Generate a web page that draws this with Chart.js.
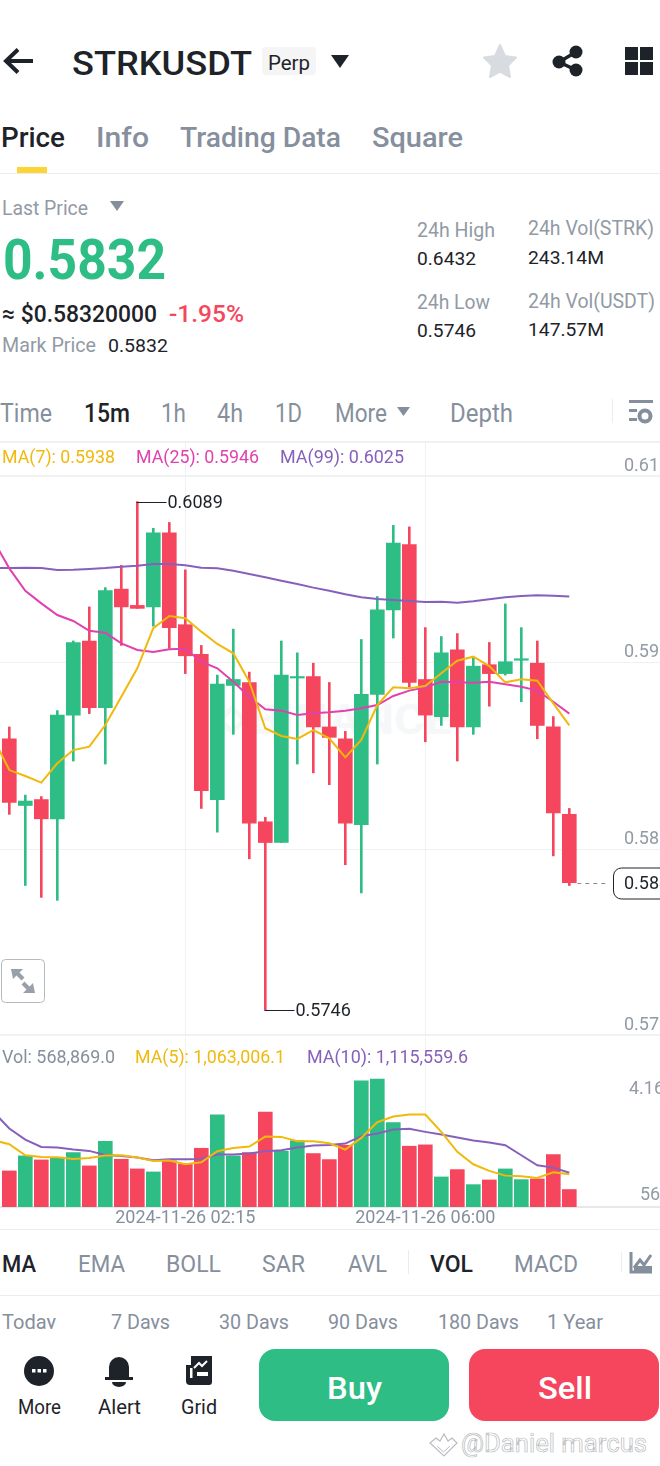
<!DOCTYPE html>
<html><head><meta charset="utf-8">
<script src="https://cdn.jsdelivr.net/npm/chart.js@4"></script>
<style>
html,body{margin:0;padding:0;background:#fff;width:660px;height:1466px;overflow:hidden;font-family:Roboto,sans-serif}
#page{position:relative;width:660px;height:1466px;overflow:hidden}
.t{position:absolute;white-space:nowrap;line-height:1;transform-origin:0 50%}
.r{position:absolute}
canvas{position:absolute;left:0;display:block}
svg{position:absolute;overflow:visible}
</style></head><body><div id="page">
<canvas id="price" width="660" height="594" style="top:442px;width:660px;height:594px"></canvas>
<canvas id="vol" width="660" height="192" style="top:1037px;width:660px;height:192px"></canvas>
</div>
<script>
const GREEN='#2ebd85',RED='#f6465d',DARK='#1e2329',GRAY='#868f9d',YEL='#f0b90b',MAG='#e041ae',PUR='#8660bb',GRID='#eff1f3';

// one label per candle, 15 minute bars
const categories=['2024-11-25 23:30','2024-11-25 23:45','2024-11-26 00:00','2024-11-26 00:15','2024-11-26 00:30','2024-11-26 00:45','2024-11-26 01:00','2024-11-26 01:15','2024-11-26 01:30','2024-11-26 01:45','2024-11-26 02:00','2024-11-26 02:15','2024-11-26 02:30','2024-11-26 02:45','2024-11-26 03:00','2024-11-26 03:15','2024-11-26 03:30','2024-11-26 03:45','2024-11-26 04:00','2024-11-26 04:15','2024-11-26 04:30','2024-11-26 04:45','2024-11-26 05:00','2024-11-26 05:15','2024-11-26 05:30','2024-11-26 05:45','2024-11-26 06:00','2024-11-26 06:15','2024-11-26 06:30','2024-11-26 06:45','2024-11-26 07:00','2024-11-26 07:15','2024-11-26 07:30','2024-11-26 07:45','2024-11-26 08:00','2024-11-26 08:15'];
const opens =[.5929,.5884,.5888,.5875,.5945,.5995,.5950,.6030,.6019,.6018,.6068,.6006,.5986,.5888,.5965,.5967,.5873,.5859,.5970,.5971,.5937,.5929,.5871,.5959,.6016,.6060,.5969,.5944,.5989,.5937,.5979,.5973,.5982,.5980,.5937,.5878];
const closes=[.5886,.5887,.5875,.5945,.5994,.5950,.6029,.6018,.6017,.6068,.6004,.5985,.5894,.5966,.5969,.5872,.5859,.5972,.5971,.5937,.5930,.5872,.5959,.6016,.6061,.5967,.5945,.5987,.5937,.5978,.5973,.5981,.5983,.5938,.5879,.5832];
const highs =[.5937,.5891,.5890,.5948,.5995,.6018,.6031,.6046,.6089,.6071,.6075,.6043,.5992,.5972,.6003,.5974,.5876,.5995,.5987,.5980,.5967,.5934,.5996,.6025,.6073,.6072,.6004,.5998,.6000,.5984,.5994,.6020,.6004,.5995,.5944,.5882];
const lows  =[.5878,.5830,.5822,.5820,.5914,.5946,.5912,.5992,.6017,.6005,.5990,.5973,.5882,.5866,.5932,.5848,.5746,.5859,.5912,.5906,.5898,.5844,.5825,.5912,.5997,.5964,.5927,.5938,.5914,.5932,.5951,.5972,.5954,.5929,.5850,.5830];
// moving averages: the first value belongs to the candle just left of the view
const ma7 =[.59295,.59079,.59039,.58994,.59125,.59214,.59237,.59383,.59574,.59766,.60036,.60119,.60103,.60013,.59930,.59867,.59675,.59361,.59309,.59289,.59349,.59293,.59165,.59282,.59518,.59637,.59631,.59646,.59732,.59817,.59844,.59781,.59671,.59691,.59682,.59529,.59380];
const ma25=[.60631,.60440,.60289,.60204,.60125,.60085,.60019,.60006,.59934,.59889,.59876,.59894,.59898,.59810,.59766,.59675,.59574,.59489,.59480,.59451,.59462,.59469,.59480,.59496,.59518,.59579,.59615,.59637,.59675,.59671,.59668,.59675,.59658,.59641,.59615,.59540,.59460];
const ma99=[.60442,.60442,.60444,.60442,.60429,.60431,.60436,.60442,.60451,.60458,.60469,.60469,.60461,.60444,.60440,.60424,.60402,.60380,.60357,.60334,.60310,.60289,.60265,.60245,.60233,.60227,.60220,.60213,.60215,.60208,.60218,.60231,.60245,.60254,.60258,.60255,.60250];
const volumes=[1174000,1663000,1532000,1608000,1771000,1337000,2141000,1554000,1239000,1141000,1500000,1402000,1912000,3000000,1663000,1771000,3086000,1814000,2163000,1739000,1543000,2010000,4108000,4160000,2749000,1978000,2022000,978000,1217000,728000,880000,1239000,891000,913000,1706000,568869];
const volMa5 =[2173000,2043000,1684000,1630000,1619000,1565000,1597000,1674000,1684000,1608000,1500000,1511000,1391000,1456000,1815000,1923000,1967000,2293000,2282000,2141000,2141000,2076000,1869000,2249000,2760000,2945000,3010000,3010000,2445000,1793000,1391000,1174000,1021000,1000000,945000,1130000,1063006];
const volMa10=[3097000,2554000,2195000,1956000,1934000,1869000,1826000,1695000,1663000,1608000,1521000,1554000,1554000,1565000,1706000,1706000,1739000,1815000,1847000,1934000,2000000,2021000,2065000,2304000,2391000,2521000,2543000,2445000,2358000,2260000,2163000,2097000,2010000,1684000,1358000,1282000,1115560];
const priceTicks=[.61063,.59808,.58546,.57291];
const timeTickIndex=[11,26];
const volTickValues=[4160000,568869];
const volTickLabels=['4.16M','568,869.0'];
const highestIndex=8, lowestIndex=16, lastPrice=.5832;

const XMIN=-9.3/16, XMAX=(660-9.3)/16;
const PMIN=.5746-26/14820, PMAX=.5746+568/14820;
const VMAX=169.7*32600;
const up=i=>closes[i]>=opens[i];
const candleColors=opens.map((_,i)=>up(i)?GREEN:RED);
const lineData=a=>a.map((v,i)=>({x:i-1,y:v}));
const lineDs=(label,a,c,order)=>({type:'line',label,data:lineData(a),borderColor:c,backgroundColor:c,borderWidth:2,pointRadius:0,tension:0,order});

function xScale(extra){return Object.assign({type:'linear',min:XMIN,max:XMAX,offset:false,
  afterBuildTicks:s=>{s.ticks=timeTickIndex.map(v=>({value:v}))},
  grid:{color:GRID,lineWidth:1,drawTicks:false,offset:false},border:{display:false}},extra)}

const pricePlugin={id:'priceMarks',afterDraw(c){
  const g=c.ctx,x=c.scales.x,y=c.scales.y;
  g.save();
  g.font='18px Roboto';g.textBaseline='middle';g.textAlign='left';
  [[highestIndex,highs[highestIndex]],[lowestIndex,lows[lowestIndex]]].forEach(([i,v])=>{
    const px=Math.round(x.getPixelForValue(i))-.5,py=Math.round(y.getPixelForValue(v))+.5;
    g.strokeStyle=DARK;g.lineWidth=1;g.beginPath();g.moveTo(px,py);g.lineTo(px+30,py);g.stroke();
    g.fillStyle=DARK;g.fillText(v.toFixed(4),px+31,py+.5);
  });
  const py=Math.round(y.getPixelForValue(lastPrice))+.5,lx=x.getPixelForValue(closes.length-1);
  g.strokeStyle='#848e9c';g.setLineDash([4,4]);g.beginPath();g.moveTo(lx+8,py);g.lineTo(lx+37,py);g.stroke();g.setLineDash([]);
  g.fillStyle='#fff';g.strokeStyle=DARK;g.beginPath();g.roundRect(613.5,py-15.5,60,31,8);g.fill();g.stroke();
  g.fillStyle=DARK;g.fillText(lastPrice.toFixed(4),624,py+1);
  g.restore();
}};
new Chart(document.getElementById('price'),{
  data:{datasets:[
    lineDs('MA(7)',ma7,YEL,1),lineDs('MA(25)',ma25,MAG,2),lineDs('MA(99)',ma99,PUR,3),
    {type:'bar',label:'body',data:opens.map((o,i)=>({x:i,y:[o,closes[i]]})),backgroundColor:candleColors,barThickness:14,borderSkipped:false,borderWidth:0,grouped:false,order:4},
    {type:'bar',label:'wick',data:lows.map((l,i)=>({x:i,y:[l,highs[i]]})),backgroundColor:candleColors,barThickness:2,borderSkipped:false,borderWidth:0,grouped:false,order:5}
  ]},
  options:{responsive:false,animation:false,devicePixelRatio:1,layout:{padding:0},
    plugins:{legend:{display:false},tooltip:{enabled:false}},
    scales:{
      x:xScale({ticks:{display:false},afterFit:s=>{s.height=0}}),
      y:{type:'linear',position:'left',min:PMIN,max:PMAX,
        afterBuildTicks:s=>{s.ticks=priceTicks.map(v=>({value:v}))},
        afterFit:s=>{s.width=0;s.paddingTop=0;s.paddingBottom=0},
        ticks:{mirror:true,padding:624,labelOffset:-10,color:'#929aa5',font:{family:'Roboto',size:18},callback:v=>v.toFixed(4)},
        grid:{color:GRID,drawTicks:false,lineWidth:c=>(c.index===0||c.index===3)?2:1},border:{display:false}}
    }},
  plugins:[pricePlugin]
});
const volPlugin={id:'volMarks',afterDraw(c){
  const g=c.ctx,y=c.scales.y;g.save();g.font='18px Roboto';g.fillStyle='#929aa5';g.textBaseline='middle';
  g.fillText(volTickLabels[0],629,y.getPixelForValue(volTickValues[0])+10);
  g.fillText(volTickLabels[1],640,y.getPixelForValue(volTickValues[1])+6);
  g.restore();
}};
new Chart(document.getElementById('vol'),{
  data:{datasets:[
    lineDs('MA(5)',volMa5,YEL,1),lineDs('MA(10)',volMa10,PUR,2),
    {type:'bar',label:'Vol',data:volumes.map((v,i)=>({x:i,y:v})),backgroundColor:candleColors,barThickness:14,borderWidth:0,grouped:false,order:3}
  ]},
  options:{responsive:false,animation:false,devicePixelRatio:1,layout:{padding:0},
    plugins:{legend:{display:false},tooltip:{enabled:false}},
    scales:{
      x:xScale({ticks:{autoSkip:false,maxRotation:0,padding:1,color:'#868f9d',font:{family:'Roboto',size:18},callback:v=>categories[v]},
        border:{display:true,color:'#e6e8ea',width:2},afterFit:s=>{s.height=22}}),
      y:{type:'linear',min:0,max:VMAX,display:false}
    }},
  plugins:[volPlugin]
});

// page furniture around the charts
const page=document.getElementById('page');
function T(text,x1,x2,cy,size,color,weight,parent){
  const e=document.createElement('span');e.className='t';e.textContent=text;
  e.style.cssText=`left:${x1}px;top:${cy-size/2}px;font-size:${size}px;color:${color};font-weight:${weight||400}`;
  (parent||page).appendChild(e);
  const w=e.getBoundingClientRect().width;
  e.style.transform=`scaleX(${(x2-x1)/w})`;return e;
}
function R(x,y,w,h,bg,extra){const e=document.createElement('div');e.className='r';e.style.cssText=`left:${x}px;top:${y}px;width:${w}px;height:${h}px;background:${bg};${extra||''}`;page.appendChild(e);return e}
function S(html,z){const d=document.createElement('div');d.innerHTML=`<svg width="660" height="1466" viewBox="0 0 660 1466" style="left:0;top:0;z-index:${z||0}">${html}</svg>`;page.appendChild(d)}

page.style.zIndex=0;
const wm=T('BINANCE',250,452,720,42,'#f6f7f8',700);wm.style.zIndex=-1;
S(`<path d="M232 708l12 12-12 12-12-12z" fill="none" stroke="#f6f7f8" stroke-width="5"/>`,-1);

R(0,173,660,1,'#eaecef');R(17,167,30,6,'#fcd535');
R(0,441,660,2,GRID);R(0,1229,660,1,'#eaecef');R(0,1295,660,1,'#eaecef');
R(612,399,1,24,'#eaecef');R(408,1250,1,24,'#eaecef');R(621,1252,1,20,'#eaecef');

T('STRKUSDT',72,252,63,34,DARK,500);
R(262,47,54,28,'#f5f5f5','border-radius:4px');T('Perp',268,310,63,20,DARK);
T('Price',1,65,138,28,DARK,500);T('Info',96,149,138,28,GRAY,500);T('Trading Data',180,341,138,28,GRAY,500);T('Square',372,463,138,28,GRAY,500);
T('Last Price',2,88,208,20,'#929aa5');
T('0.5832',3,166,260,56,GREEN,700);
T('≈ $0.58320000',2,157,314,24,DARK,500);T('-1.95%',169,244,314,24,RED,500);
T('Mark Price',2,96,345,20,'#929aa5');T('0.5832',108,168,345,19,DARK);
T('24h High',417,495,230,21,'#929aa5');T('0.6432',417,476,258,19,DARK);
T('24h Vol(STRK)',528,654,228,21,'#929aa5');T('243.14M',528,604,257.5,19,DARK);
T('24h Low',417,490,302,21,'#929aa5');T('0.5746',417,476,330,19,DARK);
T('24h Vol(USDT)',528,655,301.5,21,'#929aa5');T('147.57M',528,604,329.5,19,DARK);
T('Time',0,52,413,25,GRAY);T('15m',84,130,413,25,DARK,500);T('1h',161,186,413,25,GRAY);T('4h',217,243,413,25,GRAY);T('1D',275,302,413,25,GRAY);T('More',335,387,413,25,GRAY);T('Depth',450,513,413,25,GRAY);
T('MA(7): 0.5938',2,115,457,18,YEL);T('MA(25): 0.5946',136,259,457,18,MAG);T('MA(99): 0.6025',280,404,457,18,PUR);
T('Vol: 568,869.0',2,115,1057,18,GRAY);T('MA(5): 1,063,006.1',135,285,1057,18,YEL);T('MA(10): 1,115,559.6',307,468,1057,18,PUR);
T('MA',2,36,1264,24,DARK,500);T('EMA',78,125,1264,24,GRAY);T('BOLL',166,221,1264,24,GRAY);T('SAR',262,305,1264,24,GRAY);T('AVL',348,387,1264,24,GRAY);T('VOL',430,473,1264,24,DARK,500);T('MACD',514,578,1264,24,GRAY);
T('Today',2,56,1322,20,GRAY);T('7 Days',111,170,1322,20,GRAY);T('30 Days',219,289,1322,20,GRAY);T('90 Days',328,398,1322,20,GRAY);T('180 Days',438,519,1322,20,GRAY);T('1 Year',547,603,1322,20,GRAY);
R(0,1329,660,137,'#fff');
T('More',18,61,1407,20,DARK);T('Alert',98,141,1407,20,DARK);T('Grid',181,217,1407,20,DARK);
R(259,1349,190,72,GREEN,'border-radius:16px');R(469,1349,190,72,RED,'border-radius:16px');
T('Buy',327,382,1388,32,'#fff',500);T('Sell',538,592,1388,32,'#fff',500);
const dm=T('@Daniel marcus',461,647,1443,25,'#fff',400);dm.style.webkitTextStroke='0.7px #b9bcc0';

S(`
<path d="M33 61H8M18 49.500 6 61l12 11.500" fill="none" stroke="${DARK}" stroke-width="4"/>
<path d="M331 55h18l-9 13z" fill="${DARK}"/>
<path d="M500 45l5 11 11 1.500-8 8 2 11.500-10-5.500-10 5.500 2-11.500-8-8 11-1.500z" fill="#d8dbe0" stroke="#d8dbe0" stroke-linejoin="round" stroke-width="2"/>
<g fill="${DARK}"><circle cx="576" cy="52" r="6.500"/><circle cx="559" cy="62" r="6.500"/><circle cx="576" cy="70" r="6.500"/></g>
<path d="M576 52 559 62 576 70" fill="none" stroke="${DARK}" stroke-width="3.500"/>
<g fill="${DARK}"><rect x="625" y="47" width="13" height="13"/><rect x="640" y="47" width="13" height="13"/><rect x="625" y="62" width="13" height="13"/><rect x="640" y="62" width="13" height="13"/></g>
<path d="M110 201h14l-7 10z" fill="#848e9c"/><path d="M397 407h13l-6.500 9z" fill="#848e9c"/>
<g fill="#848e9c"><rect x="629" y="400" width="24" height="3"/><rect x="629" y="409" width="8" height="3"/><rect x="629" y="418" width="8" height="3"/></g>
<circle cx="645" cy="416" r="5.500" fill="none" stroke="#848e9c" stroke-width="4"/>
<rect x="1.500" y="959.500" width="43" height="43" rx="4" fill="#fff" stroke="#b5b9c0"/>
<path d="M11 969h12l-3.500 3.500 5 5-3 3-5-5L13 979zM35 993H23l3.500-3.500-5-5 3-3 5 5L33 983z" fill="#9aa0aa"/>
<path d="M631 1252v20h21M634 1268l6-8 4 5 7-10" fill="none" stroke="#848e9c" stroke-width="3"/>
<rect x="634" y="1266" width="18" height="6" fill="#848e9c"/>
<circle cx="39" cy="1371" r="15" fill="${DARK}"/><g fill="#fff"><rect x="32" y="1369" width="3.500" height="3.500"/><rect x="37.500" y="1369" width="3.500" height="3.500"/><rect x="43" y="1369" width="3.500" height="3.500"/></g>
<path d="M109 1377v-10a10 10 0 0 1 20 0v10h4v3h-28v-3z" fill="${DARK}"/><path d="M112 1382h14a7 5 0 0 1-14 0z" fill="${DARK}"/>
<path d="M186 1365h5v-9h21v26a3 3 0 0 1-3 3h-19a4 4 0 0 1-4-4z" fill="${DARK}"/>
<path d="M194 1368l5-5 3 3 5-5" fill="none" stroke="#fff" stroke-width="2"/><rect x="190" y="1368" width="2.500" height="10" fill="#fff"/><rect x="197" y="1372" width="11" height="4" fill="#fff"/>
<path d="M430 1443l6-5 4 3 4-7 4 7 4-3 5 5-13 13z" fill="none" stroke="#b9bcc0" stroke-width="1.200"/>
<path d="M437 1446l6.500 6 6.500-6" fill="none" stroke="#b9bcc0"/>
`);
</script></body></html>
